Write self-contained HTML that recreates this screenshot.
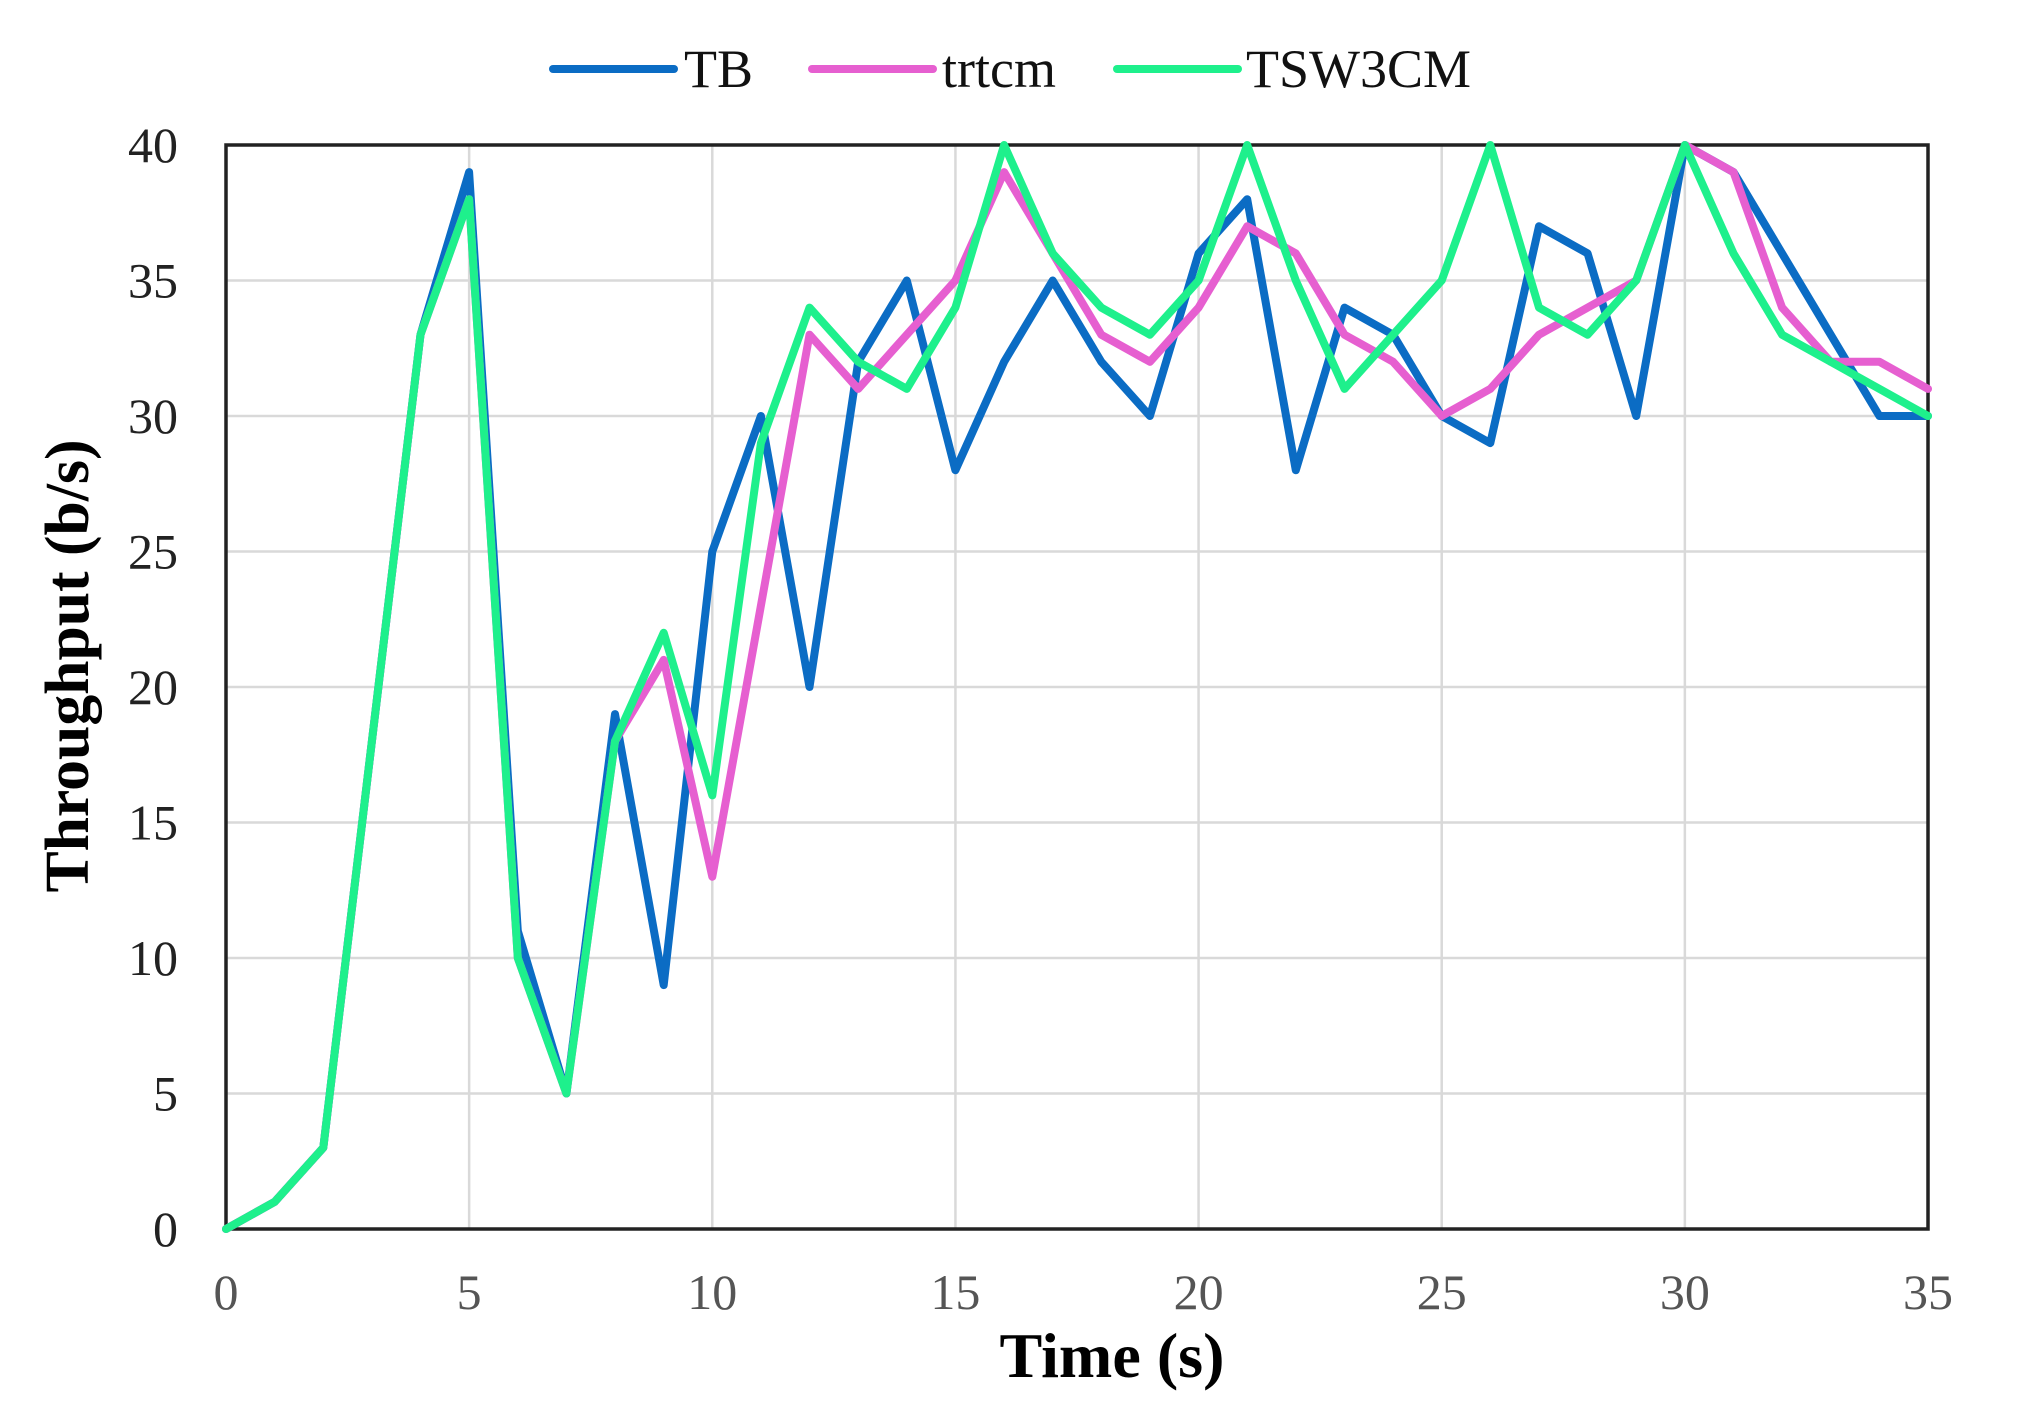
<!DOCTYPE html>
<html><head><meta charset="utf-8"><style>html,body{margin:0;padding:0;background:#fff}svg{display:block}</style></head>
<body>
<svg width="2028" height="1425" viewBox="0 0 2028 1425" xmlns="http://www.w3.org/2000/svg" font-family="'Liberation Serif', serif">
<rect width="2028" height="1425" fill="#fff"/>
<g stroke="#d9d9d9" stroke-width="2.5" id="grid"></g>
<g id="yt" font-size="50" fill="#222" text-anchor="end"></g>
<g id="xt" font-size="50" fill="#555" text-anchor="middle"></g>
<rect x="226" y="145" width="1702" height="1084" fill="none" stroke="#222" stroke-width="3.5"/>
<g id="series" fill="none" stroke-width="8" stroke-linejoin="round" stroke-linecap="round"></g>
<text x="1112" y="1377" font-size="63" font-weight="bold" text-anchor="middle" textLength="225" lengthAdjust="spacingAndGlyphs">Time (s)</text>
<text transform="translate(88,666) rotate(-90)" font-size="62" font-weight="bold" text-anchor="middle" textLength="453" lengthAdjust="spacingAndGlyphs">Throughput (b/s)</text>
<g stroke-width="8" stroke-linecap="round">
<line x1="553" y1="69" x2="674" y2="69" stroke="#0b6cc4"/>
<line x1="812" y1="69" x2="933" y2="69" stroke="#e65fd0"/>
<line x1="1117" y1="69" x2="1238" y2="69" stroke="#1ef08c"/>
</g>
<g font-size="54" fill="#111">
<text x="684" y="87">TB</text>
<text x="942" y="87">trtcm</text>
<text x="1246" y="87">TSW3CM</text>
</g>
<script>
var L=226,R=1928,T=145,B=1229,sx=(R-L)/35,sy=(B-T)/40,ns="http://www.w3.org/2000/svg";
function el(p,n,a,t){var e=document.createElementNS(ns,n);for(var k in a)e.setAttribute(k,a[k]);if(t!=null)e.textContent=t;document.getElementById(p).appendChild(e);}
for(var v=5;v<40;v+=5){var y=B-v*sy;el("grid","line",{x1:L,x2:R,y1:y,y2:y});}
for(var v=5;v<35;v+=5){var x=L+v*sx;el("grid","line",{x1:x,x2:x,y1:T,y2:B});}
for(var v=0;v<=40;v+=5){el("yt","text",{x:178,y:B-v*sy+17},v);}
for(var v=0;v<=35;v+=5){el("xt","text",{x:L+v*sx,y:1309},v);}
var S=[["#0b6cc4",[0,1,3,18,33,39,11,5,19,9,25,30,20,32,35,28,32,35,32,30,36,38,28,34,33,30,29,37,36,30,40,39,36,33,30,30]],
["#e65fd0",[0,1,3,18,33,38,10,5,18,21,13,23,33,31,33,35,39,36,33,32,34,37,36,33,32,30,31,33,34,35,40,39,34,32,32,31]],
["#1ef08c",[0,1,3,18,33,38,10,5,18,22,16,29,34,32,31,34,40,36,34,33,35,40,35,31,33,35,40,34,33,35,40,36,33,32,31,30]]];
S.forEach(function(s){var p=s[1].map(function(v,i){return (L+i*sx).toFixed(1)+","+(B-v*sy).toFixed(1)}).join(" ");el("series","polyline",{points:p,stroke:s[0]});});
</script>
</svg>
</body></html>
